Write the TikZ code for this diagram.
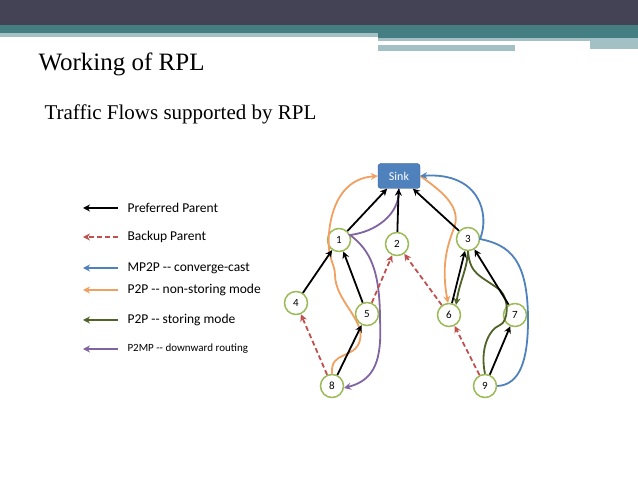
\documentclass[tikz,border=0pt]{standalone}
\usepackage{fontspec}
\setmainfont{Liberation Serif}
\newfontfamily\carf{Carlito}
\usetikzlibrary{arrows.meta}
\definecolor{dk}{HTML}{434355}
\definecolor{tl}{HTML}{457E82}
\definecolor{lt}{HTML}{A3C0C4}
\definecolor{bl}{HTML}{4F81BD}
\definecolor{og}{HTML}{F0A060}
\definecolor{gr}{HTML}{4F6228}
\definecolor{pu}{HTML}{8064A2}
\definecolor{rd}{HTML}{C0504D}
\definecolor{ng}{HTML}{9BBB59}
\begin{document}
\begin{tikzpicture}[x=1pt,y=-1pt,
  nd/.style={circle,draw=ng,line width=1.5pt,fill=white,minimum size=23pt,inner sep=0pt,font=\carf\fontsize{11}{12}\selectfont},
  e/.style={-{Stealth[length=7pt,width=7pt]},line width=1.8pt},
  bk/.style={e,black},
  bu/.style={e,rd,dash pattern=on 5pt off 3pt},
  lg/.style={font=\carf\fontsize{13.5}{15}\selectfont,anchor=west}]
\useasboundingbox (0,0) rectangle (638,478);
\fill[dk] (0,0) rectangle (638,25);
\fill[tl] (0,25) rectangle (638,33);
\fill[lt] (0,33) rectangle (378,37);
\fill[tl] (378,33) rectangle (638,38);
\fill[lt] (378,38) rectangle (638,41);
\fill[lt] (378,45) rectangle (515,51);
\fill[lt] (590,38) rectangle (638,49);
\node[anchor=west,font=\fontsize{25}{27}\selectfont] (t) at (35,64) {Working of RPL};
\node[anchor=west,font=\fontsize{21}{23}\selectfont] (s) at (41,114) {Traffic Flows supported by RPL};
% legend
\foreach \y/\c/\st/\n in {208/black/bk/a,237/rd/bu/b,268/bl/e/c,290/og/e/d,320/gr/e/f}{
  \coordinate (l\n) at (118,\y); \coordinate (r\n) at (83,\y);
  \draw[\st,draw=\c,-{Stealth[length=7pt,width=7pt]}] (l\n) -- (r\n);}
\coordinate (lg) at (118,349); \coordinate (rg) at (83,349);
\draw[e,pu] (lg) -- (rg);
\node[lg] (ta) at (124,208) {Preferred Parent};
\node[lg] (tb) at (124,237) {Backup Parent};
\node[lg] (tc) at (124,268) {MP2P -- converge-cast};
\node[lg] (td) at (124,290) {P2P -- non-storing mode};
\node[lg] (tf) at (124,320) {P2P -- storing mode};
\node[lg,font=\carf\fontsize{11}{12}\selectfont] (tg) at (124,349) {P2MP -- downward routing};
% nodes
\node[draw=bl!70!black,fill=bl,rounded corners=3pt,minimum width=42pt,minimum height=25pt,text=white,font=\carf\fontsize{12}{13}\selectfont] (S) at (399,176) {Sink};
\node[nd] (n1) at (339,240) {1};
\node[nd] (n2) at (397,244) {2};
\node[nd] (n3) at (468,239) {3};
\node[nd] (n4) at (296,303) {4};
\node[nd] (n5) at (367,314) {5};
\node[nd] (n6) at (449,315) {6};
\node[nd] (n7) at (515,315) {7};
\node[nd] (n8) at (332,386) {8};
\node[nd] (n9) at (485,386) {9};
% colored curves
\draw[e,og] (n8.north) .. controls (330,350) and (355,360) .. (360,340) .. controls (365,320) and (335,300) .. (335,275)
  .. controls (335,262) and (325,258) .. (330,225) .. controls (335,195) and (350,178) .. (S.west);
\draw[e,og] (S.east) .. controls (440,190) and (460,205) .. (455,225) .. controls (450,240) and (440,260) .. (448,303);
\draw[e,bl] (n9.east) .. controls (520,385) and (528,360) .. (528,320) .. controls (528,260) and (510,245) .. (480,239)
  .. controls (490,215) and (480,172) .. (S.east);
\draw[e,gr] (n9.north) .. controls (480,350) and (488,330) .. (500,325) .. controls (508,322) and (510,300) .. (500,290)
  .. controls (480,275) and (470,275) .. (468,251) .. controls (467,270) and (460,280) .. (456,305);
\draw[e,pu] (S.south) .. controls (400,215) and (375,232) .. (350,235) .. controls (370,250) and (380,270) .. (380,320)
  .. controls (382,360) and (375,380) .. (344,388);
% black
\draw[bk] (n4) -- (n1); \draw[bk] (n5) -- (n1); \draw[bk] (n8) -- (n5);
\draw[bk] (n1) -- (S); \draw[bk] (n2) -- (S); \draw[bk] (n3) -- (S);
\draw[bk] (n6) -- (n3); \draw[bk] (n7) -- (n3); \draw[bk] (n9) -- (n7);
% backup
\draw[bu] (n8) -- (n4); \draw[bu] (n5) -- (n2); \draw[bu] (n6) -- (n2); \draw[bu] (n9) -- (n6);
\end{tikzpicture}
\end{document}
